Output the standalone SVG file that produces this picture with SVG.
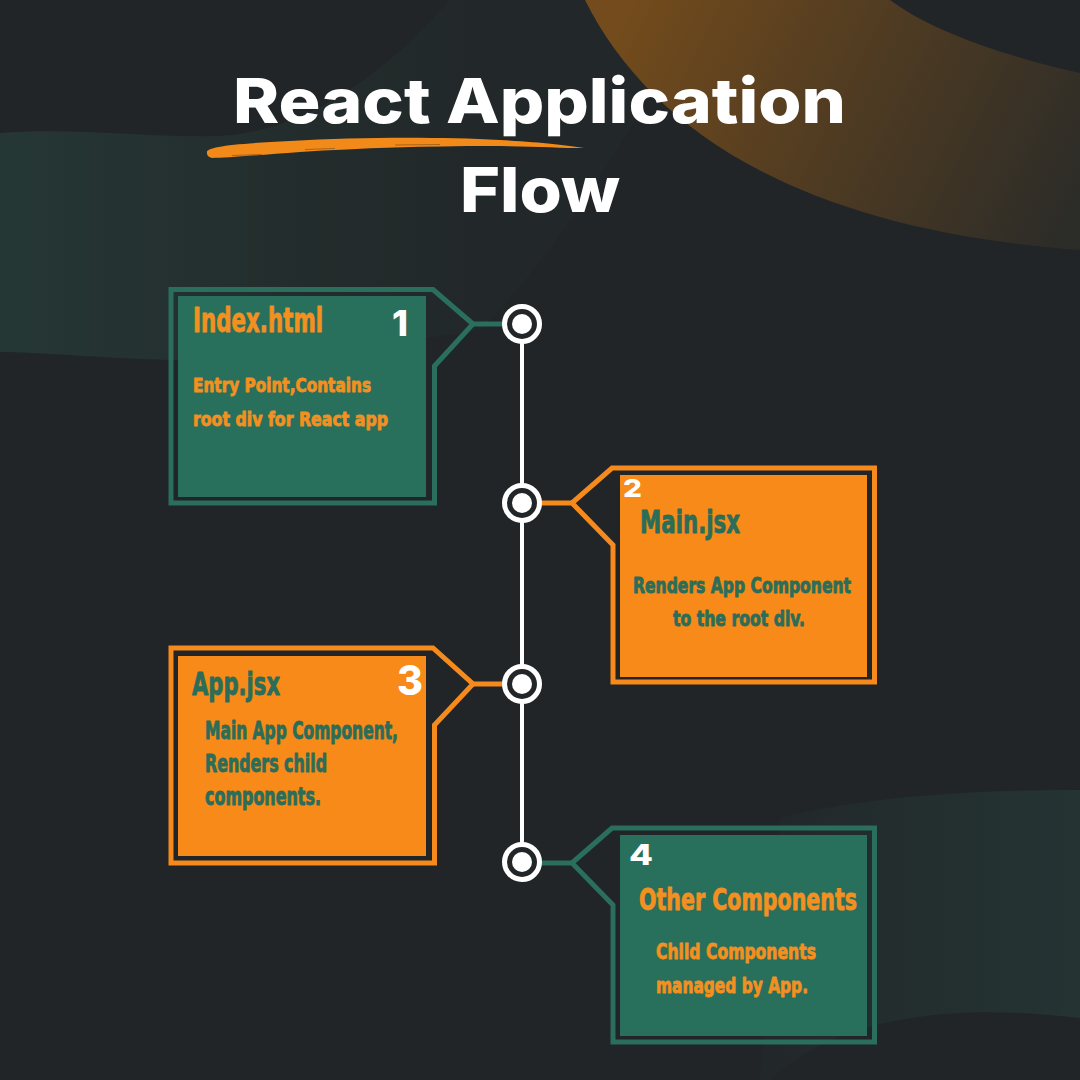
<svg xmlns="http://www.w3.org/2000/svg" width="1080" height="1080" viewBox="0 0 1080 1080">
  <defs>
    <linearGradient id="arcGrad" x1="620" y1="20" x2="1060" y2="240" gradientUnits="userSpaceOnUse">
      <stop offset="0" stop-color="#734b1c"/>
      <stop offset="0.5" stop-color="#4f3b22"/>
      <stop offset="1" stop-color="#2c2c28"/>
    </linearGradient>
    <linearGradient id="waveL" x1="0" y1="0" x2="520" y2="0" gradientUnits="userSpaceOnUse">
      <stop offset="0" stop-color="#253735"/>
      <stop offset="0.6" stop-color="#232c2c"/>
      <stop offset="1" stop-color="#222729"/>
    </linearGradient>
    <linearGradient id="waveR" x1="760" y1="0" x2="1080" y2="0" gradientUnits="userSpaceOnUse">
      <stop offset="0" stop-color="#222729"/>
      <stop offset="0.4" stop-color="#232d2d"/>
      <stop offset="1" stop-color="#243433"/>
    </linearGradient>
    <style>
      .title { font-family: "Inter", "Lato", "Liberation Sans", sans-serif; font-weight: 800; fill: #ffffff; }
      .num { font-family: "Inter", "Lato", "Liberation Sans", sans-serif; font-weight: 800; fill: #ffffff; }
      .cond { font-family: "Liberation Sans Narrow", "DejaVu Sans Condensed", "Roboto Condensed", "Liberation Sans", sans-serif; font-weight: bold; font-stretch: condensed; stroke-width: 0.8; stroke-linejoin: round; }
      .onTeal { fill: #f39020; stroke: #f39020; }
      .onOrange { fill: #2b6d59; stroke: #2b6d59; }
      .tealStroke { fill: none; stroke: #2a6f5d; stroke-width: 5; stroke-linejoin: miter; }
      .orangeStroke { fill: none; stroke: #f68a1c; stroke-width: 5; stroke-linejoin: miter; }
      .tealFill { fill: #29705c; }
      .orangeFill { fill: #f78a19; }
      .ring { fill: #222628; stroke: #ffffff; stroke-width: 5; }
      .dot { fill: #ffffff; }
    </style>
  </defs>

  <!-- background -->
  <rect x="0" y="0" width="1080" height="1080" fill="#212527"/>
  <path d="M0,133 C70,127 150,138 220,136 C300,132 380,80 450,0 L700,0 C640,120 560,250 480,330 C380,345 250,362 170,360 C100,358 40,352 0,352 Z" fill="url(#waveL)"/>
  <path d="M780,818 C850,800 950,790 1080,790 L1080,1018 C980,1006 900,1012 830,1040 C800,1055 780,1070 770,1080 L760,1080 Z" fill="url(#waveR)"/>
  <path d="M585,0 C650,130 800,230 1080,250 L1080,73 C1000,55 930,30 890,0 Z" fill="url(#arcGrad)"/>

  <!-- title -->
  <g id="title">
    <text class="title" x="233" y="123" font-size="62" textLength="613" lengthAdjust="spacingAndGlyphs">React Application</text>
    <path d="M207,153 C205,147 230,144 290,141 C360,137 440,137 500,140 C540,142 565,145 584,148 C560,148 530,146 490,146 C430,146 360,148 300,152 C260,155 225,158 212,158 C208,157 207,155 207,153 Z" fill="#f28a1a"/>
    <path d="M232,155.5 L262,154.5 M305,149.5 L335,148.5 M395,145 L440,144.5" stroke="#3a2a18" stroke-width="0.8" opacity="0.5" fill="none"/>
    <text class="title" x="460" y="212" font-size="62" textLength="160" lengthAdjust="spacingAndGlyphs">Flow</text>
  </g>

  <!-- connectors: timeline and stubs -->
  <g id="connectors">
    <line x1="522" y1="324" x2="522" y2="862" stroke="#ffffff" stroke-width="4"/>
    <line x1="473" y1="324" x2="503" y2="324" stroke="#2a6f5d" stroke-width="5"/>
    <line x1="572" y1="503" x2="541" y2="503" stroke="#f68a1c" stroke-width="5"/>
    <line x1="473" y1="684" x2="503" y2="684" stroke="#f68a1c" stroke-width="5"/>
    <line x1="572" y1="863" x2="541" y2="863" stroke="#2a6f5d" stroke-width="5"/>
  </g>

  <!-- timeline points -->
  <g id="points">
    <circle class="ring" cx="522" cy="324" r="17.5"/><circle class="dot" cx="522" cy="324" r="10"/>
    <circle class="ring" cx="522" cy="503" r="17.5"/><circle class="dot" cx="522" cy="503" r="10"/>
    <circle class="ring" cx="522" cy="684" r="17.5"/><circle class="dot" cx="522" cy="684" r="10"/>
    <circle class="ring" cx="522" cy="862" r="17.5"/><circle class="dot" cx="522" cy="862" r="10"/>
  </g>

  <!-- node 1 -->
  <g id="node-index-html">
    <path class="tealStroke" d="M171,289.5 L433,289.5 L473,324 L434.5,366 L434.5,503 L171,503 Z"/>
    <rect class="tealFill" x="178" y="296" width="248" height="201"/>
    <text class="cond onTeal" x="193" y="332" font-size="33" textLength="130" lengthAdjust="spacingAndGlyphs">Index.html</text>
    <text class="num" x="392" y="336" font-size="36" textLength="16" lengthAdjust="spacingAndGlyphs">1</text>
    <text class="cond onTeal" x="193" y="392" font-size="20" textLength="178" lengthAdjust="spacingAndGlyphs">Entry Point,Contains</text>
    <text class="cond onTeal" x="193" y="426" font-size="20" textLength="195" lengthAdjust="spacingAndGlyphs">root div for React app</text>
  </g>

  <!-- node 2 -->
  <g id="node-main-jsx">
    <path class="orangeStroke" d="M874.5,468 L612,468 L572,503 L613,545 L613,682 L874.5,682 Z"/>
    <rect class="orangeFill" x="620" y="475" width="247" height="202"/>
    <text class="num" x="623" y="497" font-size="25" textLength="19" lengthAdjust="spacingAndGlyphs">2</text>
    <text class="cond onOrange" x="640" y="533" font-size="32" textLength="100" lengthAdjust="spacingAndGlyphs">Main.jsx</text>
    <text class="cond onOrange" x="633" y="593" font-size="21" textLength="218" lengthAdjust="spacingAndGlyphs">Renders App Component</text>
    <text class="cond onOrange" x="673" y="626" font-size="21" textLength="132" lengthAdjust="spacingAndGlyphs">to the root div.</text>
  </g>

  <!-- node 3 -->
  <g id="node-app-jsx">
    <path class="orangeStroke" d="M171,648 L433,648 L473,684 L434.5,725 L434.5,863 L171,863 Z"/>
    <rect class="orangeFill" x="178" y="656" width="248" height="200"/>
    <text class="cond onOrange" x="192" y="695" font-size="32" textLength="88" lengthAdjust="spacingAndGlyphs">App.jsx</text>
    <text class="num" x="397" y="695" font-size="41" textLength="26" lengthAdjust="spacingAndGlyphs">3</text>
    <text class="cond onOrange" x="205" y="739" font-size="24" textLength="193" lengthAdjust="spacingAndGlyphs">Main App Component,</text>
    <text class="cond onOrange" x="205" y="772" font-size="24" textLength="122" lengthAdjust="spacingAndGlyphs">Renders child</text>
    <text class="cond onOrange" x="205" y="805" font-size="24" textLength="116" lengthAdjust="spacingAndGlyphs">components.</text>
  </g>

  <!-- node 4 -->
  <g id="node-other-components">
    <path class="tealStroke" d="M874.5,828 L612,828 L572,863 L613,905 L613,1042 L874.5,1042 Z"/>
    <rect class="tealFill" x="620" y="835" width="247" height="201"/>
    <text class="num" x="629" y="865" font-size="28" textLength="24" lengthAdjust="spacingAndGlyphs">4</text>
    <text class="cond onTeal" x="639" y="910" font-size="30" textLength="218" lengthAdjust="spacingAndGlyphs">Other Components</text>
    <text class="cond onTeal" x="656" y="959" font-size="22" textLength="160" lengthAdjust="spacingAndGlyphs">Child Components</text>
    <text class="cond onTeal" x="656" y="993" font-size="22" textLength="152" lengthAdjust="spacingAndGlyphs">managed by App.</text>
  </g>
</svg>
